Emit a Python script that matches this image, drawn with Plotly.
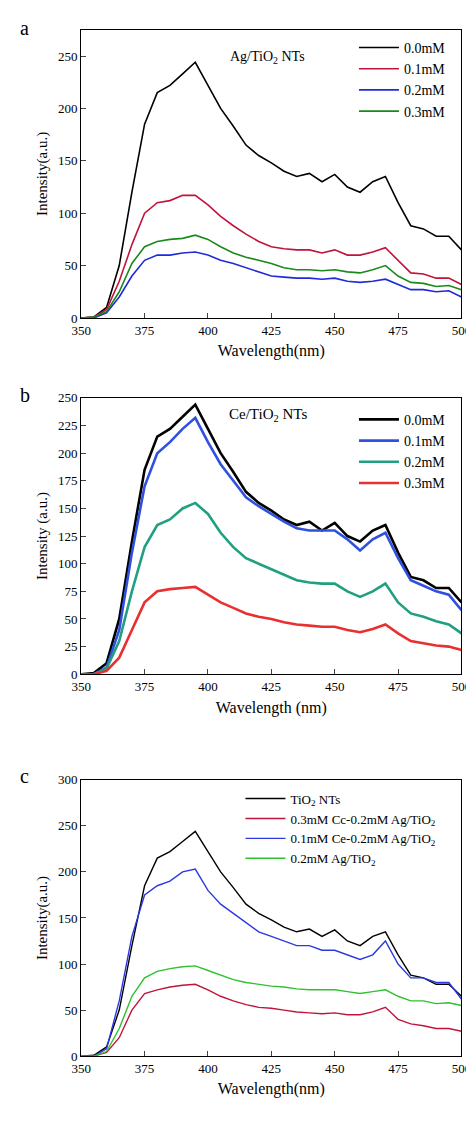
import plotly.graph_objects as go

wl = list(range(350, 501, 5))
a_00 = [0,1,10,50,120,185,215,222,233,244,222,200,183,165,155,148,140,135,138,130,137,125,120,130,135,110,88,85,78,78,65]
a_01 = [0,1,8,35,70,100,110,112,117,117,108,97,88,80,73,68,66,65,65,62,65,60,60,63,67,55,43,42,38,38,32]
a_02 = [0,0,5,20,40,55,60,60,62,63,60,55,52,48,44,40,39,38,38,37,38,35,34,35,37,32,27,27,25,26,20]
a_03 = [0,1,6,25,52,68,73,75,76,79,75,68,62,58,55,52,48,46,46,45,46,44,43,46,50,40,34,33,30,31,27]
b_00 = a_00
b_01 = [0,0,6,40,110,170,200,210,222,232,210,190,175,160,152,145,138,132,130,130,130,122,112,122,128,105,85,80,75,72,58]
b_02 = [0,0,5,30,75,115,135,140,150,155,145,128,115,105,100,95,90,85,83,82,82,75,70,75,82,65,55,52,48,45,37]
b_03 = [0,0,3,15,40,65,75,77,78,79,72,65,60,55,52,50,47,45,44,43,43,40,38,41,45,37,30,28,26,25,22]
c_tio2 = a_00
c_03ce = [0,0,4,20,50,68,72,75,77,78,72,65,60,56,53,52,50,48,47,46,47,45,45,48,53,40,35,33,30,30,27]
c_01ce = [0,0,8,60,130,175,185,190,200,203,180,165,155,145,135,130,125,120,120,115,115,110,105,110,125,100,85,85,80,80,62]
c_ag = [0,0,5,30,65,85,92,95,97,98,93,88,83,80,78,76,75,73,72,72,72,70,68,70,72,65,60,60,57,58,55]

F = "Liberation Serif"
fig = go.Figure()
panels = [
    ("", "legend", [("0.0mM", a_00, "#000000"), ("0.1mM", a_01, "#c0143c"), ("0.2mM", a_02, "#1f2bd8"), ("0.3mM", a_03, "#1a8a1a")], 1.6),
    ("2", "legend2", [("0.0mM", b_00, "#000000"), ("0.1mM", b_01, "#3050e0"), ("0.2mM", b_02, "#20a080"), ("0.3mM", b_03, "#e83030")], 2.6),
    ("3", "legend3", [("TiO<sub>2</sub> NTs", c_tio2, "#000000"), ("0.3mM Cc-0.2mM Ag/TiO<sub>2</sub>", c_03ce, "#c0143c"),
                      ("0.1mM Ce-0.2mM Ag/TiO<sub>2</sub>", c_01ce, "#2a3ae0"), ("0.2mM Ag/TiO<sub>2</sub>", c_ag, "#30c030")], 1.4),
]
for s, lg, series, w in panels:
    for name, y, col in series:
        fig.add_trace(go.Scatter(x=wl, y=y, name=name, mode="lines", line=dict(color=col, width=w),
                                 xaxis="x" + s, yaxis="y" + s, legend=lg))

doms = [[1-307/1142, 1-15/1142], [1-668/1142, 1-388/1142], [1-1055/1142, 1-775/1142]]
yr = [[0, 275], [0, 250], [0, 300]]
ydt = [50, 25, 50]
ytitles = ["Intensity(a.u.)", "Intensity (a.u.)", "Intensity(a.u.)"]
xtitles = ["Wavelength(nm)", "Wavelength (nm)", "Wavelength(nm)"]
ax = dict(showline=True, mirror=True, linecolor="black", linewidth=1, ticks="inside", ticklen=5,
          showgrid=False, zeroline=False, tickfont=dict(family=F, size=13, color="black"))
lay = {}
for i, s in enumerate(["", "2", "3"]):
    lay["xaxis" + s] = dict(ax, domain=[66/474, 463/474], range=[350, 500], dtick=25, anchor="y" + s,
                            title=dict(text=xtitles[i], font=dict(family=F, size=16, color="black"), standoff=8))
    lay["yaxis" + s] = dict(ax, domain=doms[i], range=yr[i], dtick=ydt[i], anchor="x" + s,
                            title=dict(text=ytitles[i], font=dict(family=F, size=15, color="black"), standoff=6))
legpos = [(0.74, 0.985, 14), (0.74, 0.655, 14), (0.49, 0.318, 13)]
for i, lg in enumerate(["legend", "legend2", "legend3"]):
    x, y, fs = legpos[i]
    lay[lg] = dict(x=x, y=y, xanchor="left", yanchor="top",
                   font=dict(family=F, size=fs, color="black"), bgcolor="rgba(0,0,0,0)", tracegroupgap=0,
                   itemwidth=40)
fig.update_layout(**lay)
fig.update_layout(width=474, height=1142, margin=dict(l=0, r=0, t=0, b=0), plot_bgcolor="white",
                  paper_bgcolor="white", showlegend=True)
ann = [("a", 0.0, 1.0), ("b", 0.0, 1-372/1142), ("c", 0.0, 1-758/1142)]
for t, x, y in ann:
    fig.add_annotation(text=t, x=x, y=y, xref="paper", yref="paper", xanchor="left", yanchor="top",
                       showarrow=False, font=dict(family=F, size=20, color="black"))
fig.add_annotation(text="Ag/TiO<sub>2</sub> NTs", x=0.55, y=1-32/1142, xref="paper", yref="paper",
                   showarrow=False, font=dict(family=F, size=14, color="black"))
fig.add_annotation(text="Ce/TiO<sub>2</sub> NTs", x=0.55, y=1-405/1142, xref="paper", yref="paper",
                   showarrow=False, font=dict(family=F, size=15, color="black"))
fig.write_html("out.html")
